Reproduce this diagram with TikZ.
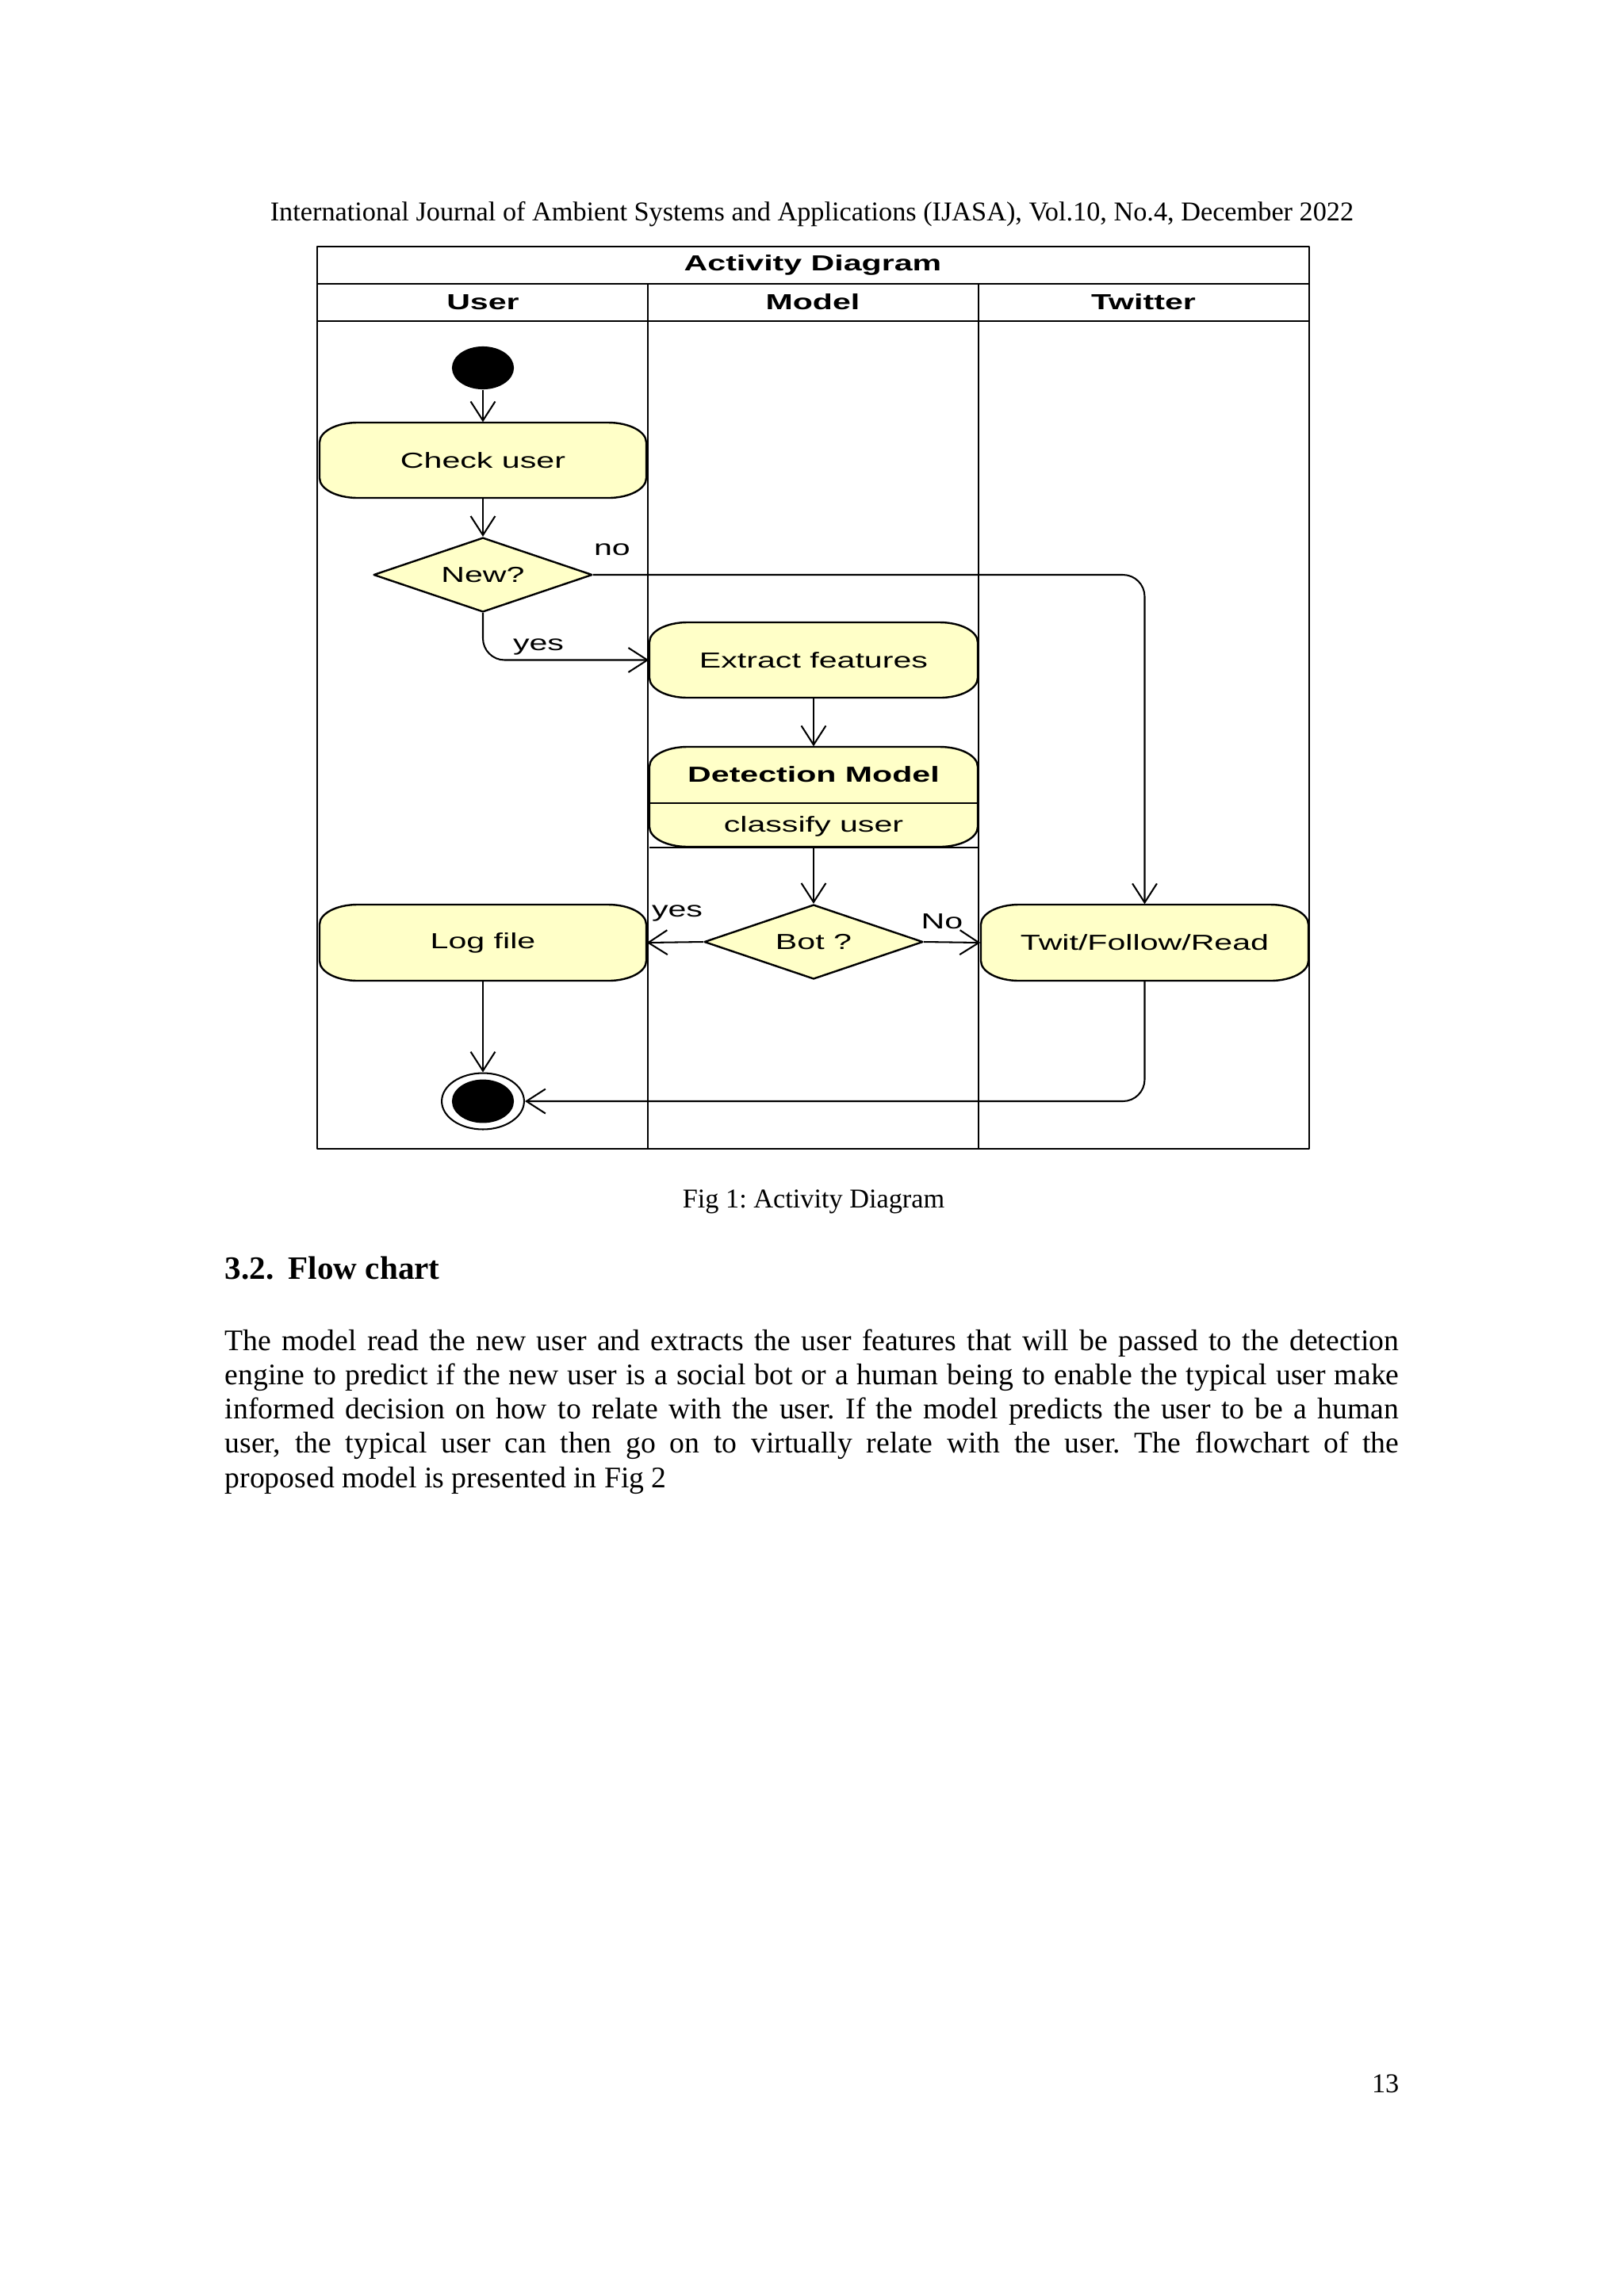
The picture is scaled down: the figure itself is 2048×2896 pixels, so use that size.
\documentclass[tikz,border=0pt]{standalone}
\usepackage{fontspec}
\setmainfont{Liberation Serif}
\newfontfamily\diagfont[FakeStretch=1.5]{Liberation Sans}
\usetikzlibrary{arrows.meta,shapes.geometric,fit}

\definecolor{actfill}{HTML}{FFFFC8}
\newcommand*{\crx}{14pt}
\newcommand*{\cry}{7.3pt}
% action box: name, left, top, right, bottom (page px), text
\newcommand*{\actbox}[6]{%
    \draw[actline] ({#2+48},#3) -- ({#4-48},#3)
        arc[start angle=90,end angle=0,x radius=\crx,y radius=\cry] -- (#4,{#5-25})
        arc[start angle=0,end angle=-90,x radius=\crx,y radius=\cry] -- ({#2+48},#5)
        arc[start angle=-90,end angle=-180,x radius=\crx,y radius=\cry] -- (#2,{#3+25})
        arc[start angle=180,end angle=90,x radius=\crx,y radius=\cry] -- cycle;
    \node[inner sep=0pt,fit={(#2,#3) (#4,#5)}] (#1) {};
    \node[acttext] (#1-t) at (#1.center) {#6};
}

\tikzset{
    actline/.style={line width=0.7pt,fill=actfill},
    acttext/.style={inner sep=0pt,font=\diagfont\fontsize{8}{9.6}\selectfont},
    lanehead/.style={acttext,font=\diagfont\fontsize{8}{9.6}\selectfont\bfseries},
    decision/.style={diamond,draw,line width=0.7pt,fill=actfill,inner sep=0pt,shape aspect=2.9,
        minimum width=80.5pt,minimum height=27.4pt,font=\diagfont\fontsize{8}{9.6}\selectfont},
    flow/.style={line width=0.6pt,-{Straight Barb[length=7pt,width=9pt]}},
    guard/.style={inner sep=0pt,font=\diagfont\fontsize{8}{9.6}\selectfont},
}

\begin{document}
\frenchspacing
\begin{tikzpicture}[x=0.0102539cm,y=-0.0102539cm,line join=round]
    \useasboundingbox (0,0) rectangle (2048,2896);
    \node[anchor=base,font=\fontsize{10}{12}\selectfont] (runhead) at (1024,278)
        {International Journal of Ambient Systems and Applications (IJASA), Vol.10, No.4, December 2022};

    % swimlanes
    \draw[line width=0.8pt] (400,311) rectangle (1651,1449);
    \draw[line width=0.8pt] (400,358) -- (1651,358) (400,405) -- (1651,405);
    \draw[line width=0.8pt] (817,358) -- (817,1449) (1234,358) -- (1234,1449);
    \node[lanehead] (title) at (1025,334) {Activity Diagram};
    \node[lanehead] (luser) at (609,381) {User};
    \node[lanehead] (lmodel) at (1025,381) {Model};
    \node[lanehead] (ltwitter) at (1442,381) {Twitter};

    \node[ellipse,fill=black,inner sep=0pt,minimum width=22.8pt,minimum height=15.8pt] (start) at (609,464) {};
    \actbox{chk}{403}{533}{815}{628}{Check user}
    \node[decision] (newq) at (609,725) {New?};
    \actbox{ext}{819}{785}{1233}{880}{Extract features}
    \actbox{det}{819}{942}{1233}{1068}{}
    \draw[line width=0.7pt] (819,1013) -- (1233,1013) (819,1069) -- (1235,1069);
    \node[lanehead] (dettitle) at (1026,977) {Detection Model};
    \node[acttext] (detop) at (1026,1042) {classify user};
    \node[decision] (bot) at (1026,1188) {Bot ?};
    \actbox{logf}{403}{1141}{815}{1237}{Log file}
    \actbox{twit}{1237}{1141}{1650}{1237}{Twit/Follow/Read}
    \node[ellipse,draw,line width=0.6pt,inner sep=0pt,minimum width=30.3pt,minimum height=20.7pt] (final) at (609,1389) {};
    \node[ellipse,fill=black,inner sep=0pt,minimum width=22.8pt,minimum height=16pt] (finaldot) at (final) {};

    \draw[flow] (start) -- (chk);
    \draw[flow] (chk) -- (newq);
    \draw[flow,rounded corners=8pt] (newq.east) -| (twit.north);
    \node[guard] (gno) at (772,693) {no};
    \draw[flow,rounded corners=8pt] (newq.south) |- (ext.west);
    \node[guard] (gyes) at (679,816) {yes};
    \draw[flow] (ext) -- (det);
    \draw[flow] (det.south) -- (bot.north);
    \draw[flow] (bot.west) -- (logf.east);
    \node[guard] (gbot) at (854,1152) {yes};
    \draw[flow] (bot.east) -- (twit.west);
    \node[guard] (ghuman) at (1188,1162) {No};
    \draw[flow] (logf.south) -- (final.north);
    \draw[flow,rounded corners=8pt] (twit.south) |- (final.east);

    \node[anchor=base,font=\fontsize{10}{12}\selectfont] (caption) at (1026,1523) {Fig 1: Activity Diagram};
    \node[anchor=base west,inner sep=0pt,font=\fontsize{12}{14}\selectfont\bfseries] (heading) at (283,1613)
        {3.2.\hspace{0.45em}Flow chart};
    \node[anchor=north west,inner sep=0pt,text width=432pt,align=justify,
        font=\fontsize{11}{12.6}\selectfont] (body) at (283,1676)
        {\noindent\hyphenpenalty=10000 The model read the new user and extracts the user features that will be passed to the detection\linebreak
        engine to predict if the new user is a social bot or a human being to enable the typical user make\linebreak
        informed decision on how to relate with the user. If the model predicts the user to be a human\linebreak
        user, the typical user can then go on to virtually relate with the user. The flowchart of the\linebreak
        proposed model is presented in Fig 2};
    \node[anchor=base east,inner sep=0pt,font=\fontsize{10}{12}\selectfont] (pageno) at (1765,2639) {13};
\end{tikzpicture}
\end{document}
